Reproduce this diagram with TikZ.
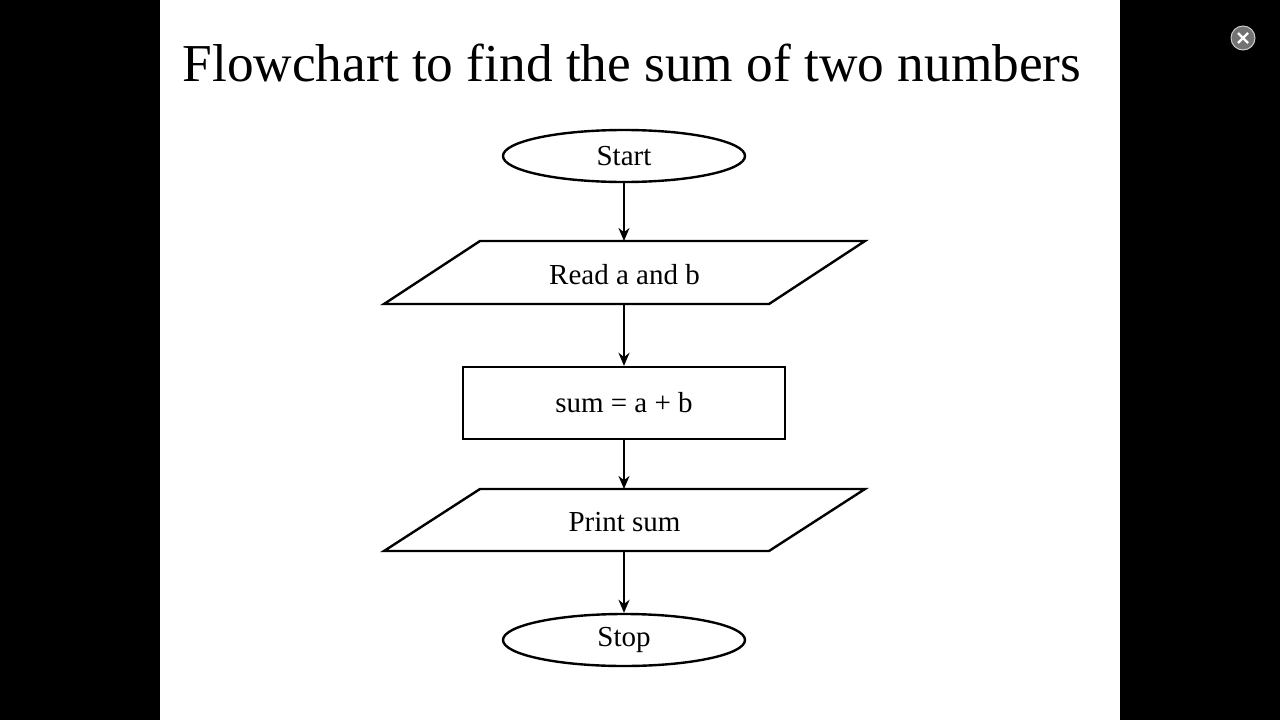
\documentclass[tikz,border=0pt]{standalone}
\usepackage{fontspec}
\setmainfont{Liberation Serif}
\usetikzlibrary{shapes.geometric,arrows.meta}
\begin{document}
\begin{tikzpicture}[x=1pt,y=-1pt,
  term/.style={ellipse, draw, line width=2.4pt, minimum width=242pt, minimum height=52pt, inner sep=0pt, font=\fontsize{29}{33}\selectfont},
  proc/.style={rectangle, draw, line width=2.4pt, minimum width=322pt, minimum height=72pt, inner sep=0pt, font=\fontsize{29}{33}\selectfont},
  io/.style={rectangle, minimum width=385pt, minimum height=63pt, inner sep=0pt, font=\fontsize{29}{33}\selectfont},
  par/.style={line width=2.4pt, line join=miter},
  arr/.style={line width=2.4pt, -{Stealth[length=13pt,width=11pt]}}]
\fill[black] (0,0) rectangle (1280,720);
\fill[white] (160,0) rectangle (1120,720);
\useasboundingbox (0,0) rectangle (1280,720);
\node[font=\fontsize{53.3}{60}\selectfont] (title) at (632,63) {Flowchart to find the sum of two numbers};
\node[term] (start) at (624,156) {Start};
\node[io] (read) at (624.5,274.5) {Read a and b};
\draw[par] (480,241) -- (865,241) -- (769,304) -- (384,304) -- cycle;
\node[proc] (sum) at (624,403) {sum = a + b};
\node[io] (print) at (624.5,522) {Print sum};
\draw[par] (480,489) -- (865,489) -- (769,551) -- (384,551) -- cycle;
\node[term] (stop) at (624,640) {Stop};
\draw[arr] (start.south) -- (start.south |- 0,241);
\draw[arr] (624,304) -- (sum.north -| start.south);
\draw[arr] (sum.south -| start.south) -- (624,489);
\draw[arr] (624,551) -- (stop.north);
\node[circle, fill=black!55, draw=white!80!black, line width=1pt, minimum size=24pt, inner sep=0pt] (close) at (1243,38) {};
\draw[white, line width=2.2pt] ([shift={(-5,-5)}]close.center) -- ([shift={(5,5)}]close.center);
\draw[white, line width=2.2pt] ([shift={(-5,5)}]close.center) -- ([shift={(5,-5)}]close.center);
\end{tikzpicture}
\end{document}
